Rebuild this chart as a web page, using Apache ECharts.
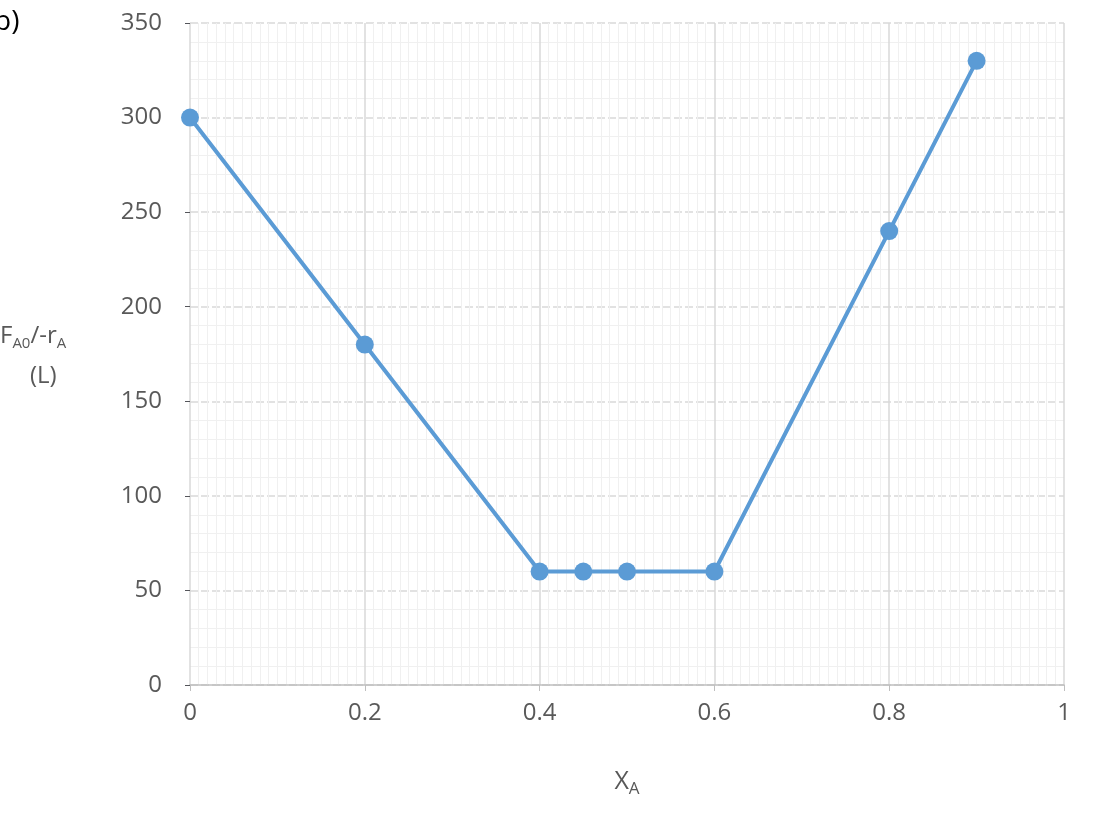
<!DOCTYPE html>
<html><head><meta charset="utf-8">
<script src="https://cdn.jsdelivr.net/npm/echarts@6/dist/echarts.min.js"></script>
<style>html,body{margin:0;background:#fff}#c{width:1094px;height:825px}</style>
</head><body><div id="c"></div>
<script>
const xValues = [0, 0.2, 0.4, 0.45, 0.5, 0.6, 0.8, 0.9];
const yValues = [300, 180, 60, 60, 60, 60, 240, 330];
const font = 'Open Sans';
const chart = echarts.init(document.getElementById('c'));
chart.setOption({
  animation: false,
  grid: {left: 190, right: 30, top: 23, bottom: 140},
  xAxis: {
    type: 'value', min: 0, max: 1, interval: 0.2,
    name: 'X{s|A}', nameLocation: 'middle', nameGap: 80,
    nameTextStyle: {fontFamily: font, fontSize: 25, color: '#595959', rich: {s: {fontSize: 17, fontFamily: font, color: '#595959', padding: [16,0,0,0]}}},
    axisLine: {show: true, lineStyle: {color: '#bfbfbf', width: 1.5}},
    axisTick: {show: true, length: 6, lineStyle: {color: '#bfbfbf'}},
    axisLabel: {fontFamily: font, fontSize: 24, color: '#595959', margin: 16},
    splitLine: {show: true, lineStyle: {color: '#d9d9d9', width: 1.5}},
    minorTick: {show: false, splitNumber: 20},
    minorSplitLine: {show: true, lineStyle: {color: '#f0f0f0', width: 1}}
  },
  yAxis: {
    type: 'value', min: 0, max: 350, interval: 50,
    axisLine: {show: false},
    axisLabel: {fontFamily: font, fontSize: 24, color: '#595959', margin: 28},
    splitLine: {show: true, lineStyle: {color: '#d9d9d9', width: 1.5, type: [8, 3]}},
    minorTick: {show: false, splitNumber: 5},
    minorSplitLine: {show: true, lineStyle: {color: '#f0f0f0', width: 1}}
  },
  graphic: [
    {type: 'text', left: -6, top: 8, style: {text: 'b)', font: '28px Open Sans', fill: '#000'}},
    {type: 'text', x: 0, y: 322, style: {text: 'F{s|A0}/-r{s|A}', font: '24px Open Sans', fill: '#595959', rich: {s: {fontSize: 15, fontFamily: font, fill: '#595959', padding: [14,0,0,0]}}}},
    {type: 'text', x: 30, y: 364, style: {text: '(L)', font: '24px Open Sans', fill: '#595959'}}
  ],
  series: [{
    type: 'line',
    data: xValues.map((x, i) => [x, yValues[i]]),
    symbol: 'circle', symbolSize: 18,
    lineStyle: {color: '#5b9bd5', width: 4},
    itemStyle: {color: '#5b9bd5'}
  }]
});
</script></body></html>
